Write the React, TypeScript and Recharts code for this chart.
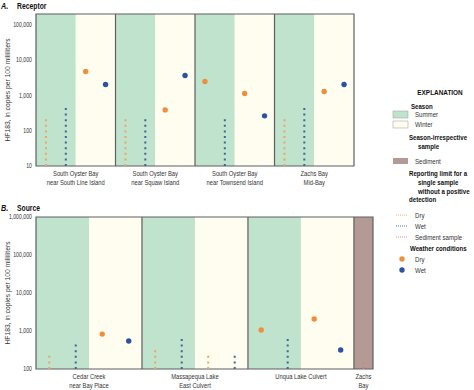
import type { ReactNode } from 'react';
import { ComposedChart, XAxis, YAxis, Scatter, ReferenceArea, ReferenceLine } from 'recharts';

const FONT = "'Liberation Sans', Arial, sans-serif";

const SUMMER = '#bfe3cd';
const WINTER = '#fffdf0';
const SEDIMENT = '#b49a94';
const DRY = '#ef8f3c';
const WET = '#2d52a0';
const DRY_LIMIT = '#f2a45a';
const WET_LIMIT = '#3a67a3';
const SED_LIMIT = '#e46f7e';
const FRAME = '#5f5f5f';

// Slot order inside every site: summer dry, summer wet, winter dry, winter wet.
// Detected concentrations are points; non-detects are drawn as reporting-limit lines.
const receptorSites = [
  ['South Oyster Bay', 'near South Line Island'],
  ['South Oyster Bay', 'near Squaw Island'],
  ['South Oyster Bay', 'near Townsend Island'],
  ['Zachs Bay', 'Mid-Bay'],
];
const receptorDetected = [
  [null, null, 4800, 2050],
  [null, null, 390, 3700],
  [2500, null, 1140, 265],
  [null, null, 1300, 2050],
];
const receptorLimits = [
  [250, 455, null, null],
  [250, 250, null, null],
  [null, 250, null, null],
  [220, 455, null, null],
];
const receptorTicks = [10, 100, 1000, 10000, 100000];

const sourceSites = [
  ['Cedar Creek', 'near Bay Place'],
  ['Massapequa Lake', 'East Culvert'],
  ['Unqua Lake Culvert'],
];
const sourceDetected = [
  [null, null, 830, 545],
  [null, null, null, null],
  [1060, null, 2070, 316],
];
const sourceLimits = [
  [260, 480, null, null],
  [335, 650, 235, 260],
  [null, 650, null, null],
];
const sedimentSite = ['Zachs', 'Bay'];
const sedimentLimits = [145];
const sourceTicks = [100, 1000, 10000, 100000, 1000000];

const SLOTS = 4;
const SED_WIDTH = 0.72;

type Pt = { x: number; v: number };
type Lim = { x: number; v: number; color: string };

function buildSeries(detected: (number | null)[][], limits: (number | null)[][]) {
  const dry: Pt[] = [];
  const wet: Pt[] = [];
  const lims: Lim[] = [];
  detected.forEach((site, i) =>
    site.forEach((v, k) => {
      if (v == null) return;
      (k % 2 === 0 ? dry : wet).push({ x: i * SLOTS + k + 0.5, v });
    })
  );
  limits.forEach((site, i) =>
    site.forEach((v, k) => {
      if (v == null) return;
      lims.push({ x: i * SLOTS + k + 0.5, v, color: k % 2 === 0 ? DRY_LIMIT : WET_LIMIT });
    })
  );
  return { dry, wet, lims };
}

function minorTicks(lo: number, hi: number) {
  const out: number[] = [];
  for (let d = lo; d < hi; d *= 10) {
    for (let m = 2; m < 10; m++) out.push(d * m);
  }
  return out;
}

const fmt = (v: number) => v.toLocaleString('en-US');

// Horizontally condensed text, standing in for a narrow typeface.
function NText({
  x,
  y,
  sx = 0.85,
  size = 7.2,
  weight = 400,
  anchor = 'start',
  color = '#333',
  italic = false,
  rotate = 0,
  children,
}: {
  x: number;
  y: number;
  sx?: number;
  size?: number;
  weight?: number;
  anchor?: 'start' | 'middle' | 'end';
  color?: string;
  italic?: boolean;
  rotate?: number;
  children: ReactNode;
}) {
  return (
    <text
      transform={`translate(${x} ${y}) rotate(${rotate}) scale(${sx} 1)`}
      textAnchor={anchor}
      fontFamily={FONT}
      fontSize={size}
      fontWeight={weight}
      fontStyle={italic ? 'italic' : 'normal'}
      fill={color}
    >
      {children}
    </text>
  );
}

function SiteTick(props: any) {
  const { x, y, index, labels } = props;
  const lines: string[] = labels[index] || [];
  return (
    <NText x={x} y={y} size={7} sx={0.83} anchor="middle">
      {lines.map((l, i) => (
        <tspan key={i} x={0} dy={i === 0 ? 10.5 : 9}>
          {l}
        </tspan>
      ))}
    </NText>
  );
}

function ValueTick(props: any) {
  const { x, y, payload } = props;
  return (
    <NText x={x} y={y + 2.2} size={6.5} sx={0.8} anchor="end">
      {fmt(payload.value)}
    </NText>
  );
}

const dot = (color: string) => (p: any) => <circle cx={p.cx} cy={p.cy} r={2.7} fill={color} />;

interface PanelProps {
  width: number;
  height: number;
  margin: { top: number; right: number; bottom: number; left: number };
  xAxisHeight: number;
  sites: string[][];
  detected: (number | null)[][];
  limits: (number | null)[][];
  yTicks: number[];
  yDomain: [number, number];
  sediment?: { label: string[]; limits: number[] };
}

function Panel({ width, height, margin, xAxisHeight, sites, detected, limits, yTicks, yDomain, sediment }: PanelProps) {
  const { dry, wet, lims } = buildSeries(detected, limits);
  const siteSpan = sites.length * SLOTS;
  const xMax = siteSpan + (sediment ? SED_WIDTH : 0);
  const labelTicks = sites.map((_, i) => i * SLOTS + SLOTS / 2);
  const labels = [...sites];
  if (sediment) {
    labelTicks.push(siteSpan + SED_WIDTH / 2);
    labels.push(sediment.label);
  }
  const [y0, y1] = yDomain;
  const minors = minorTicks(y0, y1).filter((t) => t < y1);

  return (
    <ComposedChart width={width} height={height} margin={margin}>
      <XAxis
        type="number"
        dataKey="x"
        domain={[0, xMax]}
        ticks={labelTicks}
        interval={0}
        allowDataOverflow
        axisLine={false}
        tickLine={false}
        tickSize={0}
        tickMargin={0}
        height={xAxisHeight}
        tick={<SiteTick labels={labels} />}
      />
      <YAxis
        type="number"
        dataKey="v"
        scale="log"
        domain={yDomain}
        ticks={yTicks}
        interval={0}
        allowDataOverflow
        width={36}
        axisLine={false}
        tickLine={false}
        tickSize={0}
        tickMargin={4}
        tick={<ValueTick />}
      />
      <YAxis
        yAxisId="major"
        orientation="right"
        mirror
        type="number"
        scale="log"
        domain={yDomain}
        ticks={yTicks}
        interval={0}
        allowDataOverflow
        width={0}
        axisLine={false}
        tick={false}
        tickSize={4}
        tickLine={{ stroke: FRAME, strokeWidth: 0.8 }}
      />
      <YAxis
        yAxisId="minor"
        orientation="right"
        mirror
        type="number"
        scale="log"
        domain={yDomain}
        ticks={minors}
        interval={0}
        allowDataOverflow
        width={0}
        axisLine={false}
        tick={false}
        tickSize={2}
        tickLine={{ stroke: FRAME, strokeWidth: 0.7 }}
      />

      {sites.map((_, i) => (
        <ReferenceArea key={`s${i}`} x1={i * SLOTS} x2={i * SLOTS + 2} y1={y0} y2={y1} fill={SUMMER} fillOpacity={1} stroke="none" />
      ))}
      {sites.map((_, i) => (
        <ReferenceArea key={`w${i}`} x1={i * SLOTS + 2} x2={(i + 1) * SLOTS} y1={y0} y2={y1} fill={WINTER} fillOpacity={1} stroke="none" />
      ))}
      {sediment && (
        <ReferenceArea x1={siteSpan} x2={xMax} y1={y0} y2={y1} fill={SEDIMENT} fillOpacity={1} stroke="none" />
      )}
      {sites.slice(1).map((_, i) => (
        <ReferenceLine key={`d${i}`} x={(i + 1) * SLOTS} stroke={FRAME} strokeWidth={1.2} />
      ))}
      {sediment && <ReferenceLine x={siteSpan} stroke={FRAME} strokeWidth={1.2} />}
      <ReferenceArea x1={0} x2={xMax} y1={y0} y2={y1} fill="none" stroke={FRAME} strokeWidth={1.2} />

      {lims.map((l, i) => (
        <ReferenceLine
          key={`l${i}`}
          segment={[{ x: l.x, y: y0 }, { x: l.x, y: l.v }]}
          stroke={l.color}
          strokeWidth={2}
          strokeDasharray="2 3.6"
        />
      ))}
      {sediment &&
        sediment.limits.map((v, i) => (
          <ReferenceLine
            key={`sl${i}`}
            segment={[{ x: siteSpan + SED_WIDTH / 2, y: y0 }, { x: siteSpan + SED_WIDTH / 2, y: v }]}
            stroke={SED_LIMIT}
            strokeWidth={2}
            strokeDasharray="2 3.6"
          />
        ))}

      <Scatter data={dry} dataKey="v" shape={dot(DRY)} isAnimationActive={false} />
      <Scatter data={wet} dataKey="v" shape={dot(WET)} isAnimationActive={false} />
    </ComposedChart>
  );
}

function Explanation() {
  const B = { weight: 700, color: '#111', sx: 0.85 };
  return (
    <g>
      <NText x={440} y={95} size={7.8} weight={700} color="#111" sx={0.82} anchor="middle">EXPLANATION</NText>
      <NText x={411} y={109} {...B}>Season</NText>
      <rect x={393} y={111} width={15} height={7} fill={SUMMER} stroke="#9a9a9a" strokeWidth={0.5} />
      <NText x={415} y={117}>Summer</NText>
      <rect x={393} y={121} width={15} height={7} fill={WINTER} stroke="#9a9a9a" strokeWidth={0.5} />
      <NText x={415} y={127}>Winter</NText>
      <NText x={409} y={140} {...B}>Season-irrespective</NText>
      <NText x={418} y={149} {...B}>sample</NText>
      <rect x={393} y={158} width={15} height={6} fill={SEDIMENT} />
      <NText x={415} y={164}>Sediment</NText>
      <NText x={409} y={176} {...B}>Reporting limit for a</NText>
      <NText x={418} y={185} {...B}>single sample</NText>
      <NText x={418} y={194} {...B}>without a positive</NText>
      <NText x={409} y={202} {...B}>detection</NText>
      <line x1={396} x2={408} y1={215} y2={215} stroke={DRY_LIMIT} strokeWidth={0.9} strokeDasharray="1 1" />
      <NText x={415} y={218}>Dry</NText>
      <line x1={396} x2={408} y1={226} y2={226} stroke={WET_LIMIT} strokeWidth={0.9} strokeDasharray="1 1" />
      <NText x={415} y={229}>Wet</NText>
      <line x1={396} x2={408} y1={237} y2={237} stroke={SED_LIMIT} strokeWidth={0.9} strokeDasharray="1 1" />
      <NText x={415} y={240}>Sediment sample</NText>
      <NText x={410} y={251} {...B}>Weather conditions</NText>
      <circle cx={402} cy={259} r={2.7} fill={DRY} />
      <NText x={415} y={262}>Dry</NText>
      <circle cx={402} cy={270} r={2.7} fill={WET} />
      <NText x={415} y={273}>Wet</NText>
    </g>
  );
}

const Y_LABEL = 'HF183, in copies per 100 milliliters';

export default function App() {
  return (
    <div style={{ position: 'absolute', left: 0, top: 0, width: 474, height: 390, background: '#fff', overflow: 'hidden' }}>
      <div style={{ position: 'absolute', left: 0, top: 0 }}>
        <Panel
          width={360}
          height={195}
          margin={{ top: 14, right: 6, bottom: 5, left: 0 }}
          xAxisHeight={24}
          sites={receptorSites}
          detected={receptorDetected}
          limits={receptorLimits}
          yTicks={receptorTicks}
          yDomain={[10, 205000]}
        />
      </div>
      <div style={{ position: 'absolute', left: 0, top: 190 }}>
        <Panel
          width={380}
          height={200}
          margin={{ top: 27, right: 7, bottom: 1, left: 0 }}
          xAxisHeight={20}
          sites={sourceSites}
          detected={sourceDetected}
          limits={sourceLimits}
          yTicks={sourceTicks}
          yDomain={[100, 1000000]}
          sediment={{ label: sedimentSite, limits: sedimentLimits }}
        />
      </div>
      <svg width={474} height={390} style={{ position: 'absolute', left: 0, top: 0, pointerEvents: 'none' }}>
        <NText x={1} y={9} size={8.5} weight={700} color="#111" sx={0.85} italic>A.</NText>
        <NText x={17} y={9} size={8.5} weight={700} color="#111" sx={0.8}>Receptor</NText>
        <NText x={1} y={211} size={8.5} weight={700} color="#111" sx={0.85} italic>B.</NText>
        <NText x={17} y={211} size={8.5} weight={700} color="#111" sx={0.8}>Source</NText>
        <NText x={9.5} y={90} rotate={-90} size={7.5} sx={0.9} anchor="middle">{Y_LABEL}</NText>
        <NText x={9.5} y={293} rotate={-90} size={7.5} sx={0.9} anchor="middle">{Y_LABEL}</NText>
        <Explanation />
      </svg>
    </div>
  );
}
